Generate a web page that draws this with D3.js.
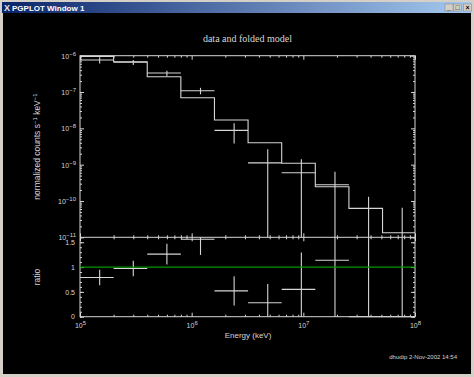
<!DOCTYPE html>
<html>
<head>
<meta charset="utf-8">
<script src="https://cdn.jsdelivr.net/npm/d3@7"></script>
<style>
  body { margin: 0; background: #d4d0c8; }
  svg { display: block; }
</style>
</head>
<body>
<svg id="win" width="474" height="377"></svg>
<script>
// spectrum bins (keV)
var binLo = [1e5, 2e5, 4e5, 8e5, 1.6e6, 3.2e6, 6.4e6, 1.28e7, 2.56e7, 5.12e7];
var binHi = [2e5, 4e5, 8e5, 1.6e6, 3.2e6, 6.4e6, 1.28e7, 2.56e7, 5.12e7, 1.024e8];
var energy = [1.5e5, 3e5, 6e5, 1.2e6, 2.4e6, 4.8e6, 9.6e6, 1.92e7, 3.84e7, 7.68e7];

// normalized counts s^-1 keV^-1
var dataRate = [7.58e-7, 6.6e-7, 3.33e-7, 1.086e-7, 8.8e-9, 1.12e-9, 6.0e-10, 2.8e-10, 0, 0];
var dataErr = [1.5e-7, 1.05e-7, 5.5e-8, 2.2e-8, 5.0e-9, 1.52e-9, 8.1e-10, 3.57e-10, 1.31e-10, 6.5e-11];
var modelRate = [9.6e-7, 6.8e-7, 2.64e-7, 6.96e-8, 1.69e-8, 4.0e-9, 1.09e-9, 2.46e-10, 6.25e-11, 1.33e-11];

// tick labels
var rateTicks = [1e-11, 1e-10, 1e-9, 1e-8, 1e-7, 1e-6];
var rateTickExp = ["\u221211", "\u221210", "\u22129", "\u22128", "\u22127", "\u22126"];
var energyTicks = [1e5, 1e6, 1e7, 1e8];
var energyTickExp = ["5", "6", "7", "8"];
var ratioTicks = [0, 0.5, 1, 1.5];
var ratioTickLabels = ["0", "0.5", "1", "1.5"];

var fg = "#d6d6d6";
var svg = d3.select("#win");

// window chrome
var grad = svg.append("defs").append("linearGradient").attr("id", "tbar");
grad.append("stop").attr("offset", "0%").attr("stop-color", "#0a246a");
grad.append("stop").attr("offset", "100%").attr("stop-color", "#a6caf0");
svg.append("rect").attr("x", 2).attr("y", 2).attr("width", 470).attr("height", 11).attr("fill", "url(#tbar)");
svg.append("text").attr("x", 4).attr("y", 10.5).attr("fill", "#e8e8e8")
  .attr("font-family", "Liberation Sans").attr("font-size", 9).attr("font-weight", "bold").text("X");
svg.append("text").attr("x", 12).attr("y", 10.5).attr("fill", "#fff")
  .attr("font-family", "Liberation Sans").attr("font-size", 8).attr("font-weight", "bold").text("PGPLOT Window 1");
var btns = svg.append("g");
["_", "\u25a1", "\u00d7"].forEach(function (s, i) {
  var bx = 445 + i * 8.5 + (i == 2 ? 1.5 : 0);
  btns.append("rect").attr("x", bx).attr("y", 4).attr("width", 8).attr("height", 7)
    .attr("fill", "#d4d0c8").attr("stroke", "#808080").attr("stroke-width", 0.5);
  btns.append("text").attr("x", bx + 4).attr("y", 10).attr("text-anchor", "middle")
    .attr("font-family", "Liberation Sans").attr("font-size", 7).attr("font-weight", "bold").attr("fill", "#000").text(s);
});
svg.append("rect").attr("x", 3).attr("y", 13).attr("width", 468).attr("height", 361).attr("fill", "#000");

// scales
var x = d3.scaleLog().domain([1e5, 1e8]).range([80, 415]).clamp(true);
var yTop = d3.scaleLog().domain([1e-11, 1e-6]).range([237.3, 55.7]).clamp(true);
var yRat = d3.scaleLinear().domain([0, 1.6]).range([316.7, 237.3]).clamp(true);

var plot = svg.append("g");

function styleAxis(g) {
  g.select(".domain").remove();
  g.selectAll("line").attr("stroke", fg);
  g.selectAll("text").attr("fill", fg).attr("font-family", "Liberation Sans").attr("font-size", 7);
}

function addSup(g, vals, exps, dy) {
  g.selectAll(".tick text").each(function (d) {
    var i = vals.indexOf(d);
    d3.select(this).append("tspan").attr("dy", dy).attr("font-size", 6).text(exps[i]);
  });
}

var xMinor = x.ticks().filter(function (v) { return energyTicks.indexOf(v) < 0; });
var yMinor = yTop.ticks().filter(function (v) { return rateTicks.indexOf(+v.toPrecision(3)) < 0; });
var rMinor = yRat.ticks(16);

function ticksPair(axisFn, scale, major, minor, transform) {
  plot.append("g").attr("transform", transform)
    .call(axisFn(scale).tickValues(minor).tickSize(-2).tickFormat(""))
    .call(styleAxis);
  return plot.append("g").attr("transform", transform)
    .call(axisFn(scale).tickValues(major).tickSize(-4))
    .call(styleAxis);
}

// upper panel axes
var gl = ticksPair(d3.axisLeft, yTop, rateTicks, yMinor, "translate(80,0)");
gl.selectAll(".tick text").text("10").attr("x", -4).attr("dy", "0.35em");
addSup(gl, rateTicks, rateTickExp, -3);
ticksPair(d3.axisRight, yTop, rateTicks, yMinor, "translate(415,0)").selectAll("text").remove();
ticksPair(d3.axisTop, x, energyTicks, xMinor, "translate(0,55.7)").selectAll("text").remove();
ticksPair(d3.axisBottom, x, energyTicks, xMinor, "translate(0,237.3)").selectAll("text").remove();

// ratio panel axes
var rl = ticksPair(d3.axisLeft, yRat, ratioTicks, rMinor, "translate(80,0)");
rl.selectAll(".tick text").text(function (d) { return ratioTickLabels[ratioTicks.indexOf(d)]; })
  .attr("x", -5);
ticksPair(d3.axisRight, yRat, ratioTicks, rMinor, "translate(415,0)").selectAll("text").remove();
ticksPair(d3.axisTop, x, energyTicks, xMinor, "translate(0,237.3)").selectAll("text").remove();
var bx = ticksPair(d3.axisBottom, x, energyTicks, xMinor, "translate(0,316.7)");
bx.selectAll(".tick text").text("10").attr("y", 6).attr("dy", "0.71em");
addSup(bx, energyTicks, energyTickExp, -3);

// frames
plot.append("rect").attr("x", x.range()[0]).attr("y", yTop.range()[1])
  .attr("width", x.range()[1] - x.range()[0]).attr("height", yRat.range()[0] - yTop.range()[1])
  .attr("fill", "none").attr("stroke", fg);
plot.append("line").attr("x1", 80).attr("x2", 415).attr("y1", 237.3).attr("y2", 237.3).attr("stroke", fg);

// model histogram
var edges = binLo.map(function (v, i) { return [v, modelRate[i]]; });
edges.push([binHi[binHi.length - 1], modelRate[modelRate.length - 1]]);
var step = d3.line()
  .x(function (d) { return x(d[0]); })
  .y(function (d) { return yTop(d[1]); })
  .curve(d3.curveStepAfter);
plot.append("path").attr("d", step(edges)).attr("fill", "none").attr("stroke", fg).attr("stroke-width", 1.1);

// data crosses, upper
var idx = d3.range(binLo.length);
var up = plot.append("g").attr("stroke", fg).attr("stroke-width", 1.1);
up.selectAll(".h").data(idx.filter(function (i) { return dataRate[i] > 0; })).enter().append("line")
  .attr("x1", function (i) { return x(binLo[i]); })
  .attr("x2", function (i) { return x(binHi[i]); })
  .attr("y1", function (i) { return yTop(dataRate[i]); })
  .attr("y2", function (i) { return yTop(dataRate[i]); });
up.selectAll(".v").data(idx).enter().append("line")
  .attr("x1", function (i) { return x(energy[i]); })
  .attr("x2", function (i) { return x(energy[i]); })
  .attr("y1", function (i) { return yTop(Math.max(dataRate[i] - dataErr[i], 0)); })
  .attr("y2", function (i) { return yTop(dataRate[i] + dataErr[i]); });

// ratio crosses
var lo = plot.append("g").attr("stroke", fg).attr("stroke-width", 1.1);
lo.selectAll(".h").data(idx).enter().append("line")
  .attr("x1", function (i) { return x(binLo[i]); })
  .attr("x2", function (i) { return x(binHi[i]); })
  .attr("y1", function (i) { return yRat(dataRate[i] / modelRate[i]); })
  .attr("y2", function (i) { return yRat(dataRate[i] / modelRate[i]); });
lo.selectAll(".v").data(idx).enter().append("line")
  .attr("x1", function (i) { return x(energy[i]); })
  .attr("x2", function (i) { return x(energy[i]); })
  .attr("y1", function (i) { return yRat((dataRate[i] - dataErr[i]) / modelRate[i]); })
  .attr("y2", function (i) { return yRat((dataRate[i] + dataErr[i]) / modelRate[i]); });

plot.append("line").attr("x1", 80).attr("x2", 415).attr("y1", yRat(1)).attr("y2", yRat(1))
  .attr("stroke", "#009a00").attr("stroke-width", 1.3);

// labels
plot.append("text").attr("x", 247.5).attr("y", 42).attr("text-anchor", "middle")
  .attr("fill", fg).attr("font-family", "Liberation Serif").attr("font-size", 10)
  .text("data and folded model");
var yl = plot.append("text").attr("transform", "translate(40,146.5) rotate(-90)")
  .attr("text-anchor", "middle").attr("fill", fg)
  .attr("font-family", "Liberation Sans").attr("font-size", 8.5);
yl.append("tspan").text("normalized counts s");
yl.append("tspan").attr("dy", -3).attr("font-size", 6).text("\u22121");
yl.append("tspan").attr("dy", 3).text(" keV");
yl.append("tspan").attr("dy", -3).attr("font-size", 6).text("\u22121");
plot.append("text").attr("transform", "translate(40,277) rotate(-90)")
  .attr("text-anchor", "middle").attr("fill", fg)
  .attr("font-family", "Liberation Sans").attr("font-size", 8.5).text("ratio");
plot.append("text").attr("x", 248).attr("y", 338).attr("text-anchor", "middle")
  .attr("fill", fg).attr("font-family", "Liberation Sans").attr("font-size", 8).text("Energy (keV)");
plot.append("text").attr("x", 457).attr("y", 359).attr("text-anchor", "end")
  .attr("fill", fg).attr("font-family", "Liberation Sans").attr("font-size", 6)
  .text("dhudip  2-Nov-2002 14:54");
</script>
</body>
</html>
